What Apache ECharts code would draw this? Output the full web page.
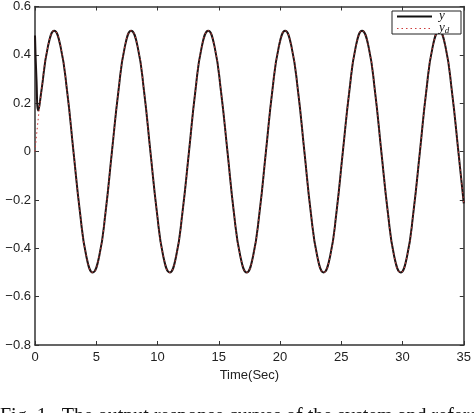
<!DOCTYPE html>
<html>
<head>
<meta charset="utf-8">
<script src="https://cdn.jsdelivr.net/npm/echarts@6/dist/echarts.min.js"></script>
<style>
html,body{margin:0;padding:0;background:#fff;}
#chart{width:474px;height:413px;}
</style>
</head>
<body>
<div id="chart"></div>
<script>
// Time samples (s)
var timeD = [0.00,0.52,1.05,1.57,2.09,2.62,3.14,3.67,4.19,4.71,5.24,5.76,
  6.28,6.81,7.33,7.85,8.38,8.90,9.42,9.95,10.47,11.00,11.52,12.04,
  12.57,13.09,13.61,14.14,14.66,15.18,15.71,16.23,16.76,17.28,17.80,18.33,
  18.85,19.37,19.90,20.42,20.94,21.47,21.99,22.51,23.04,23.56,24.09,24.61,
  25.13,25.66,26.18,26.70,27.23,27.75,28.27,28.80,29.32,29.85,30.37,30.89,
  31.42,31.94,32.46,32.99,33.51,34.03,34.56,35.00];
// desired trajectory y_d
var ydValues = [0,0.25,0.433,0.5,0.433,0.25,0,-0.25,-0.433,-0.5,-0.433,-0.25,
  0,0.25,0.433,0.5,0.433,0.25,0,-0.25,-0.433,-0.5,-0.433,-0.25,
  0,0.25,0.433,0.5,0.433,0.25,0,-0.25,-0.433,-0.5,-0.433,-0.25,
  0,0.25,0.433,0.5,0.433,0.25,0,-0.25,-0.433,-0.5,-0.433,-0.25,
  0,0.25,0.433,0.5,0.433,0.25,0,-0.25,-0.433,-0.5,-0.433,-0.25,
  0,0.25,0.433,0.5,0.433,0.25,0,-0.214];
// output y: initial transient, then follows y_d
var yTransientTime = [0.00,0.12,0.27];
var yTransientValues = [0.48,0.30,0.17];
var xTicks = [0,5,10,15,20,25,30,35];
var yTicks = [-0.8,-0.6,-0.4,-0.2,0,0.2,0.4,0.6];

var ydData = timeD.map(function(t,i){return [t, ydValues[i]];});
var yData = yTransientTime.map(function(t,i){return [t, yTransientValues[i]];})
  .concat(timeD.slice(1).map(function(t,i){return [t, ydValues[i+1]];}));

var fontSans = '"Liberation Sans", Arial, sans-serif';
function yFmt(v){ if (Math.abs(v) < 1e-9) return '0'; var s = (+v).toFixed(1); return s.replace('-', '\u2212'); }

var axisLine = {show:true, onZero:false, lineStyle:{color:'#333', width:1.5}};
var tick = {show:true, inside:true, length:4, lineStyle:{color:'#333'}};
var chart = echarts.init(document.getElementById('chart'), null, {renderer:'canvas'});
chart.setOption({
  animation:false,
  backgroundColor:'#fff',
  grid:{left:35, right:7, top:5, bottom:68, containLabel:false},
  xAxis:[{
    type:'value', min:xTicks[0], max:xTicks[xTicks.length-1], interval:5,
    name:'Time(Sec)', nameLocation:'middle', nameGap:22,
    nameTextStyle:{fontFamily:fontSans, fontSize:13, color:'#222'},
    axisLine:axisLine, axisTick:tick,
    axisLabel:{fontFamily:fontSans, fontSize:13, color:'#222', margin:6},
    splitLine:{show:false}
  },{
    type:'value', position:'top', min:xTicks[0], max:xTicks[xTicks.length-1], interval:5,
    axisLine:axisLine, axisTick:tick,
    axisLabel:{show:false}, splitLine:{show:false}
  }],
  yAxis:[{
    type:'value', min:yTicks[0], max:yTicks[yTicks.length-1], interval:0.2,
    axisLine:axisLine, axisTick:tick,
    axisLabel:{fontFamily:fontSans, fontSize:13, color:'#222', margin:4, formatter:yFmt},
    splitLine:{show:false}
  },{
    type:'value', position:'right', min:yTicks[0], max:yTicks[yTicks.length-1], interval:0.2,
    axisLine:axisLine, axisTick:tick,
    axisLabel:{show:false}, splitLine:{show:false}
  }],
  series:[{
    name:'y', type:'line', data:yData, smooth:true, showSymbol:false,
    lineStyle:{color:'#1e1414', width:2}
  },{
    name:'yd', type:'line', data:ydData, smooth:true, showSymbol:false,
    lineStyle:{color:'#cc3b3b', width:1, type:[1.5,3]}
  }],
  graphic:[
    {type:'rect', shape:{x:392, y:11, width:69, height:23}, style:{fill:'#fff', stroke:'#222', lineWidth:1}, z:100},
    {type:'line', shape:{x1:397, y1:16.5, x2:432, y2:16.5}, style:{stroke:'#111', lineWidth:2}, z:101},
    {type:'line', shape:{x1:397, y1:28.5, x2:432, y2:28.5}, style:{stroke:'#cc3b3b', lineWidth:1, lineDash:[1.5,3]}, z:101},
    {type:'text', x:439, y:16, z:101, style:{text:'y', font:'italic 13px "Liberation Serif", serif', fill:'#111', verticalAlign:'middle'}},
    {type:'text', x:439, y:28, z:101, style:{text:'{a|y}{b|d}', verticalAlign:'middle',
      rich:{a:{font:'italic 13px "Liberation Serif", serif', fill:'#111'}, b:{font:'italic 9px "Liberation Serif", serif', fill:'#111', padding:[5,0,0,0]}}}},
    {type:'text', x:0, y:427, z:101, style:{text:'Fig. 1.  The output response curves of the system and reference', font:'20px "Liberation Serif", serif', fill:'#111', verticalAlign:'bottom'}}
  ]
});
</script>
</body>
</html>
